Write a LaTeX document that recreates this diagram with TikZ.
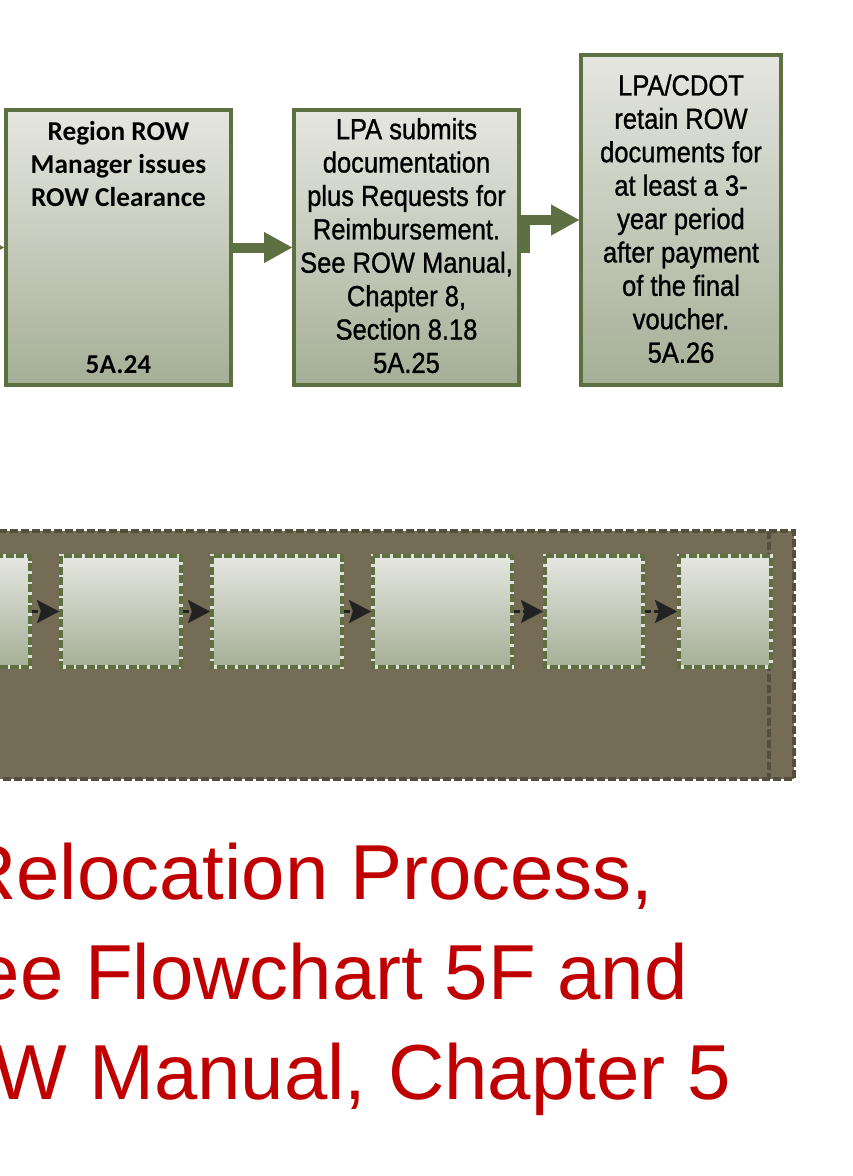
\documentclass[tikz,border=0pt]{standalone}
\usepackage{fontspec}
\setmainfont{Liberation Sans}
\newfontfamily\fgfont[FakeStretch=0.88,FakeBold=1]{Liberation Sans}
\newfontfamily\calfont{Carlito}
\usetikzlibrary{arrows.meta,calc}
\definecolor{boxgreen}{RGB}{94,111,66}
\definecolor{boxtop}{RGB}{229,230,225}
\definecolor{boxbot}{RGB}{165,175,150}
\definecolor{khaki}{RGB}{116,108,85}
\definecolor{khakiline}{RGB}{84,79,61}
\definecolor{redtext}{RGB}{192,0,0}
\definecolor{darkarrow}{RGB}{34,34,34}
\definecolor{gapcol}{RGB}{222,225,216}
\begin{document}
\begin{tikzpicture}[x=1pt,y=-1pt,
  topbox/.style={rectangle, draw=boxgreen, line width=4pt, top color=boxtop, bottom color=boxbot, inner sep=0pt, align=center, text=black},
  fgtext/.style={font={\fgfont\fontsize{29}{33.4}\selectfont}},
  caltext/.style={font={\calfont\bfseries\fontsize{27.3}{33}\selectfont}},
  bigarrow/.style={draw=boxgreen, line width=10pt, -{Triangle[length=28pt,width=31pt,line width=0.1pt]}},
  panel/.style={rectangle, fill=khaki, draw=khakiline, line width=4pt, dash pattern=on 8pt off 3pt, inner sep=0pt},
  panelline/.style={draw=khakiline, line width=4pt, dash pattern=on 8pt off 3pt},
  smallbox/.style={rectangle, top color=boxtop, bottom color=boxbot, draw=gapcol, line width=4pt, outer sep=0pt, minimum height=111pt, inner sep=0pt},
  greendash/.style={draw=boxgreen, line width=4pt, dash pattern=on 8pt off 2.5pt},
  dasharrow/.style={draw=darkarrow, line width=3pt, dash pattern=on 6pt off 3pt, shorten <=2pt, shorten >=2pt, -{Stealth[length=22pt,width=23pt,inset=4pt,line width=0.1pt]}},
  redtxt/.style={font={\fontsize{78}{94}\selectfont}, text=redtext, inner sep=0pt}
]
\useasboundingbox (0,0) rectangle (852,1176);
\fill[white] (0,0) rectangle (852,1176);
\clip (0,0) rectangle (852,1176);

% top row
\node[topbox, caltext, minimum width=225pt, minimum height=275pt] (boxA) at (118.5,247.5)
  {Region ROW\\Manager issues\\ROW Clearance\\[134pt]5A.24};
\node[topbox, fgtext, minimum width=225pt, minimum height=275pt] (boxB) at (406.5,247.5)
  {LPA submits\\documentation\\plus Requests for\\Reimbursement.\\See ROW Manual,\\Chapter 8,\\Section 8.18\\5A.25\rule[-4pt]{0pt}{4pt}};
\node[topbox, fgtext, minimum width=200pt, minimum height=330pt] (boxC) at (681,220)
  {LPA/CDOT\\retain ROW\\documents for\\at least a 3-\\year period\\after payment\\of the final\\voucher.\\5A.26\rule[-3pt]{0pt}{3pt}};

\coordinate (inA) at (-60,247.5);
\draw[bigarrow] (inA) -- (boxA.west);
\draw[bigarrow] (boxA.east) -- (boxB.west);
\draw[bigarrow] (boxB.east) -- ++(4,0) |- (boxC.west);

% bottom panel
\node[panel, minimum width=813pt, minimum height=248pt] (panel) at (387,655) {};
\coordinate (divtop) at (769,531);
\coordinate (divbot) at (769,779);
\draw[panelline] (divtop) -- (divbot);

\node[smallbox, minimum width=108pt] (s1) at (-24,611.5) {};
\node[smallbox, minimum width=120pt] (s2) at (121,611.5) {};
\node[smallbox, minimum width=130pt] (s3) at (277,611.5) {};
\node[smallbox, minimum width=139pt] (s4) at (442.5,611.5) {};
\node[smallbox, minimum width=98pt] (s5) at (594,611.5) {};
\node[smallbox, minimum width=92pt] (s6) at (725,611.5) {};
\foreach \s in {s1,s2,s3,s4,s5,s6}
  \draw[greendash] (\s.north west) rectangle (\s.south east);

\draw[dasharrow] (s1.east) -- (s2.west);
\draw[dasharrow] (s2.east) -- (s3.west);
\draw[dasharrow] (s3.east) -- (s4.west);
\draw[dasharrow] (s4.east) -- (s5.west);
\draw[dasharrow] (s5.east) -- (s6.west);

% red caption
\node[redtxt, anchor=base east] (r1) at (654,899) {Relocation Process,};
\node[redtxt, anchor=base east] (r2) at (688,999) {See Flowchart 5F and};
\node[redtxt, anchor=base east] (r3) at (731,1099) {ROW Manual, Chapter 5};
\end{tikzpicture}
\end{document}
